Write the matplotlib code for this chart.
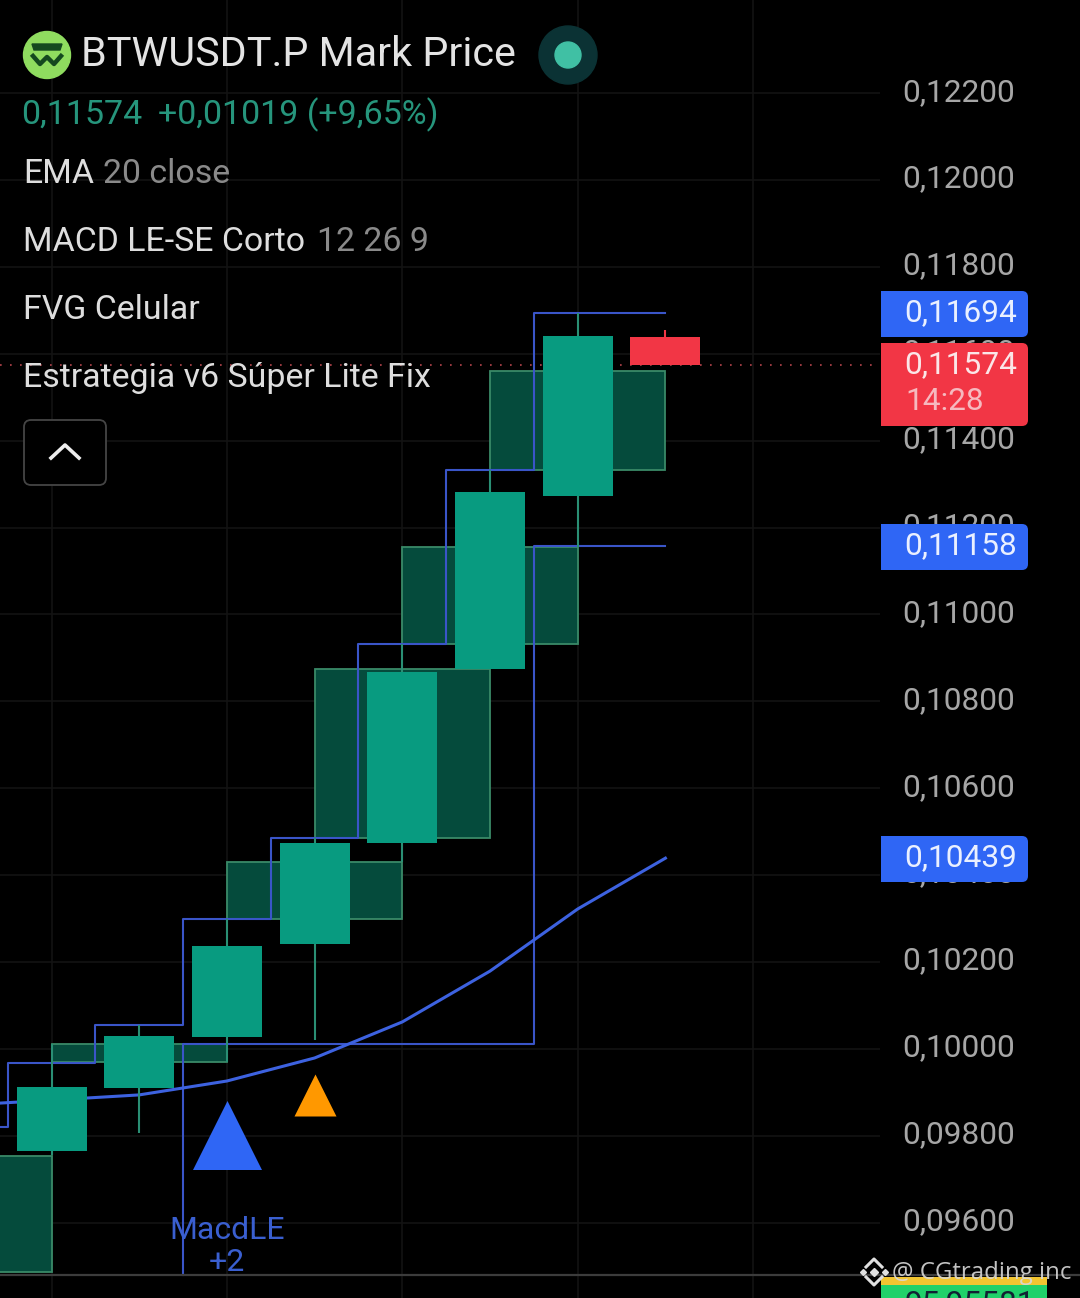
import matplotlib
matplotlib.use("Agg")
import matplotlib.pyplot as plt
from matplotlib.patches import Circle, Rectangle, FancyBboxPatch, Polygon
from matplotlib.path import Path
from matplotlib.transforms import ScaledTranslation

# ---------- data ----------
candle_idx = [0, 1, 2, 3, 4, 5, 6, 7]
opens  = [0.09765, 0.09910, 0.10027, 0.10241, 0.10474, 0.10874, 0.11273, 0.11639]
closes = [0.09912, 0.10030, 0.10237, 0.10474, 0.10868, 0.11282, 0.11641, 0.11574]
highs  = [0.10011, 0.10055, 0.10299, 0.10485, 0.10932, 0.11333, 0.11694, 0.11655]
lows   = [0.09756, 0.09806, 0.09970, 0.10020, 0.10430, 0.10874, 0.11155, 0.11574]

fvg_left   = [-2, 0, 2, 3, 4, 5]
fvg_right  = [0, 2, 4, 5, 6, 7]
fvg_top    = [0.09753, 0.10011, 0.10430, 0.10874, 0.11155, 0.11560]
fvg_bottom = [0.09486, 0.09970, 0.10299, 0.10485, 0.10932, 0.11333]

upper_x = [-0.6, -0.5, 0.5, 1.5, 2.5, 3.5, 4.5, 5.5, 7]
upper_y = [0.09820, 0.09967, 0.10055, 0.10299, 0.10485, 0.10932, 0.11333, 0.11694, 0.11694]
lower_x = [1.5, 1.5, 5.5, 7]
lower_y = [0.09479, 0.10011, 0.11158, 0.11158]

ema_x = [-0.6, 0, 1, 2, 3, 4, 5, 6, 7]
ema_y = [0.09875, 0.09882, 0.09894, 0.09926, 0.09979, 0.10062, 0.10179, 0.10322, 0.10439]

last_price = 0.11574
price_ticks = [0.122, 0.120, 0.118, 0.116, 0.114, 0.112, 0.110,
               0.108, 0.106, 0.104, 0.102, 0.100, 0.098, 0.096]
time_ticks = [0, 2, 4, 6, 8]

macd_signal = (2, 0.09802)
orange_signal = (3, 0.09894)

badges = [("0,11694", 291, 337), ("0,11158", 524, 570), ("0,10439", 836, 882)]

# ---------- colours ----------
BG = "#000000"
GRID = "#131313"
UP = "#089b80"
RED = "#f23645"
BLUE = "#2f66f5"
LINE = "#3a55c8"
EMA = "#3d62e0"
FONT = "Roboto"

plt.rcParams["font.family"] = [FONT, "DejaVu Sans"]

W, H = 1080, 1298
fig = plt.figure(figsize=(W / 100, H / 100), dpi=100, facecolor=BG)

# chart axes: pixel <-> value scale of the reference
ax = fig.add_axes([0, 0, 880 / W, 1], facecolor=BG)
ppu = 43440.0
ax.set_ylim(0.114 - (H - 440.7) / ppu, 0.114 + 440.7 / ppu)
ax.set_xlim(-51.5 / 87.7, (880 - 51.5) / 87.7)
for s in ax.spines.values():
    s.set_visible(False)
ax.set_xticks(time_ticks)
ax.set_xticklabels([])
ax.tick_params(axis="x", length=0)
ax.yaxis.tick_right()
ax.set_yticks(price_ticks)
ax.set_yticklabels([f"{t:.5f}".replace(".", ",") for t in price_ticks])
ax.tick_params(axis="y", length=0, pad=16.0, labelsize=22.8, labelcolor="#a6a6a6")
offset = ScaledTranslation(0, 4 / 100, fig.dpi_scale_trans)
for lab in ax.get_yticklabels():
    lab.set_transform(lab.get_transform() + offset)
ax.grid(True, color=GRID, lw=1.2, zorder=0)
ax.set_axisbelow(True)

# FVG boxes
for l, r, t, b in zip(fvg_left, fvg_right, fvg_top, fvg_bottom):
    ax.add_patch(Rectangle((l, b), r - l, t - b, facecolor="#054b3c",
                           edgecolor="#3a8a68", lw=1.3, zorder=2))

# last price line
ax.axhline(last_price, color="#b5444c", lw=1.2, ls=(0, (1, 5)), zorder=2)

# step lines
ax.step(upper_x, upper_y, where="post", color=LINE, lw=1.5, zorder=3)
ax.step(lower_x, lower_y, where="post", color=LINE, lw=1.5, zorder=3)
ax.plot(ema_x, ema_y, color=EMA, lw=2.2, zorder=3)

# candles
colors = [UP if c >= o else RED for o, c in zip(opens, closes)]
wick_colors = ["#2a8f74" if c >= o else RED for o, c in zip(opens, closes)]
ax.vlines(candle_idx, lows, highs, colors=wick_colors, lw=1.5, zorder=3.5)
ax.bar(candle_idx, [abs(c - o) for o, c in zip(opens, closes)],
       bottom=[min(o, c) for o, c in zip(opens, closes)],
       width=70 / 87.7, color=colors, zorder=4)

# signals
tri = Path([(-1, -1), (1, -1), (0, 1), (-1, -1)], closed=True)
ax.scatter(*macd_signal, marker=tri, s=(69 * 0.72) ** 2, color="#2f66f5", lw=0, zorder=6)
ax.scatter(*orange_signal, marker=tri, s=(42 * 0.72) ** 2, color="#ff9800", lw=0, zorder=6)
ax.text(2, 0.09582, "MacdLE", color="#3a5fd0", fontsize=23, ha="center", va="center", zorder=6)
ax.text(2, 0.09509, "+2", color="#3a5fd0", fontsize=23, ha="center", va="center", zorder=6)

# overlay in pixel space
ov = fig.add_axes([0, 0, 1, 1], facecolor="none", zorder=5)
ov.set_xlim(0, W)
ov.set_ylim(H, 0)
ov.axis("off")

ov.plot([0, W], [1275, 1275], color="#3c3c3c", lw=1.6, zorder=1)

# header
ov.add_patch(Circle((47, 55), 23.5, color="#8fdc5f", zorder=3))
ov.add_patch(Polygon([(32, 44), (62, 44), (60, 50), (34, 50)], color="#14491f", zorder=4))
ov.plot([33, 40, 47, 54, 61], [56, 64, 57, 64, 56], color="#14491f", lw=3.2, zorder=4)
ov.text(81, 55, "BTWUSDT.P Mark Price", color="#e4e4e4", fontsize=29.8, va="center", ha="left")
ov.add_patch(Circle((568, 55), 29, color="#0b3234", zorder=3))
ov.add_patch(Circle((568, 55), 13, color="#40c0a4", zorder=4))
ov.text(21, 115, "0,11574", color="#26957c", fontsize=24.5, va="center", ha="left")
ov.text(158, 115, "+0,01019 (+9,65%)", color="#26957c", fontsize=24.5, va="center", ha="left")

W1, G1 = "#dedede", "#8a8a8a"
FS = 24.4
ov.text(23, 174, "EMA", color=W1, fontsize=FS, va="center")
ov.text(103, 174, "20 close", color=G1, fontsize=FS, va="center")
ov.text(23, 242, "MACD LE-SE Corto", color=W1, fontsize=FS, va="center")
ov.text(317, 242, "12 26 9", color=G1, fontsize=FS, va="center")
ov.text(23, 310, "FVG Celular", color=W1, fontsize=FS, va="center")
ov.text(23, 378, "Estrategia v6 Súper Lite Fix", color=W1, fontsize=FS, va="center")

# collapse button
ov.add_patch(FancyBboxPatch((24, 420), 82, 65, boxstyle="round,pad=0,rounding_size=7",
                            facecolor="#000000", edgecolor="#454545", lw=1.3, zorder=3))
ov.plot([51, 65, 79], [458, 445, 458], color="#eeeeee", lw=2.6, zorder=4)


def badge(y0, y1, color):
    ov.add_patch(FancyBboxPatch((881, y0), 147, y1 - y0,
                                boxstyle="round,pad=0,rounding_size=6",
                                facecolor=color, edgecolor="none", zorder=3))
    ov.add_patch(Rectangle((881, y0), 20, y1 - y0, facecolor=color, edgecolor="none", zorder=3))


for txt, y0, y1 in badges:
    badge(y0, y1, BLUE)
    ov.text(904, (y0 + y1) / 2 - 1, txt, color="#eaf0ff", fontsize=22.8, va="center", zorder=4)

badge(343, 426, RED)
ov.text(904, 365, "0,11574", color="#fbe6e8", fontsize=22.8, va="center", zorder=4)
ov.text(905, 402, "14:28", color="#f6b9bf", fontsize=22.8, va="center", zorder=4)

# bottom badge
ov.add_patch(Rectangle((881, 1277), 166, 10, facecolor="#f2c531", edgecolor="none", zorder=3))
ov.add_patch(Rectangle((881, 1285), 166, 14, facecolor="#20d16a", edgecolor="none", zorder=3))
ov.text(904, 1304, "95,95581", color="#123", fontsize=22.8, va="center", zorder=4)

# watermark
ov.text(892, 1273, "@ CGtrading inc", color="#d8d8d8", fontsize=17.3, va="center", alpha=0.9,
        family="Open Sans", zorder=6)
for dx, dy, ms in [(0, 0, 4), (-11, 0, 3), (11, 0, 3)]:
    ov.plot(874 + dx, 1272 + dy, marker="D", ms=ms, color="#e0e0e0", zorder=6)
ov.plot([866, 874, 882], [1267, 1259, 1267], color="#e0e0e0", lw=2.2, zorder=6)
ov.plot([866, 874, 882], [1277, 1285, 1277], color="#e0e0e0", lw=2.2, zorder=6)

fig.savefig("out.png", dpi=100, facecolor=BG)
